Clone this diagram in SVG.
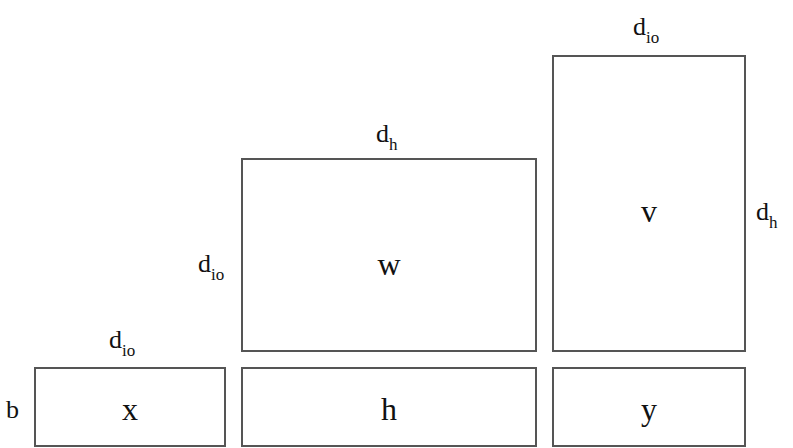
<svg xmlns="http://www.w3.org/2000/svg" width="793" height="448" viewBox="0 0 793 448">
<style>
rect{fill:#fff;stroke:#555;stroke-width:2}
text{font-family:"Liberation Serif",serif;fill:#111}
.big{font-size:32px;text-anchor:middle}
.lab{font-size:26px}
.sub{font-size:17px}
</style>
<rect x="0" y="0" width="793" height="448" style="stroke:none"/>
<g id="x"><rect x="35" y="368" width="190" height="78"/><text class="big" x="130" y="420">x</text></g>
<g id="h"><rect x="242" y="368" width="294" height="78"/><text class="big" x="389" y="420">h</text></g>
<g id="y"><rect x="553" y="368" width="192" height="78"/><text class="big" x="649" y="420">y</text></g>
<g id="w"><rect x="242" y="159" width="294" height="192"/><text class="big" x="389" y="275">w</text></g>
<g id="v"><rect x="553" y="56" width="192" height="295"/><text class="big" x="649" y="222">v</text></g>
<g id="labels">
<text class="lab" x="6" y="418">b</text>
<text class="lab" x="109" y="348">d<tspan class="sub" dy="8">io</tspan></text>
<text class="lab" x="376" y="142">d<tspan class="sub" dy="8">h</tspan></text>
<text class="lab" x="198" y="272">d<tspan class="sub" dy="8">io</tspan></text>
<text class="lab" x="633" y="35">d<tspan class="sub" dy="8">io</tspan></text>
<text class="lab" x="756" y="220">d<tspan class="sub" dy="8">h</tspan></text>
</g>
<g id="connectors"/>
</svg>
